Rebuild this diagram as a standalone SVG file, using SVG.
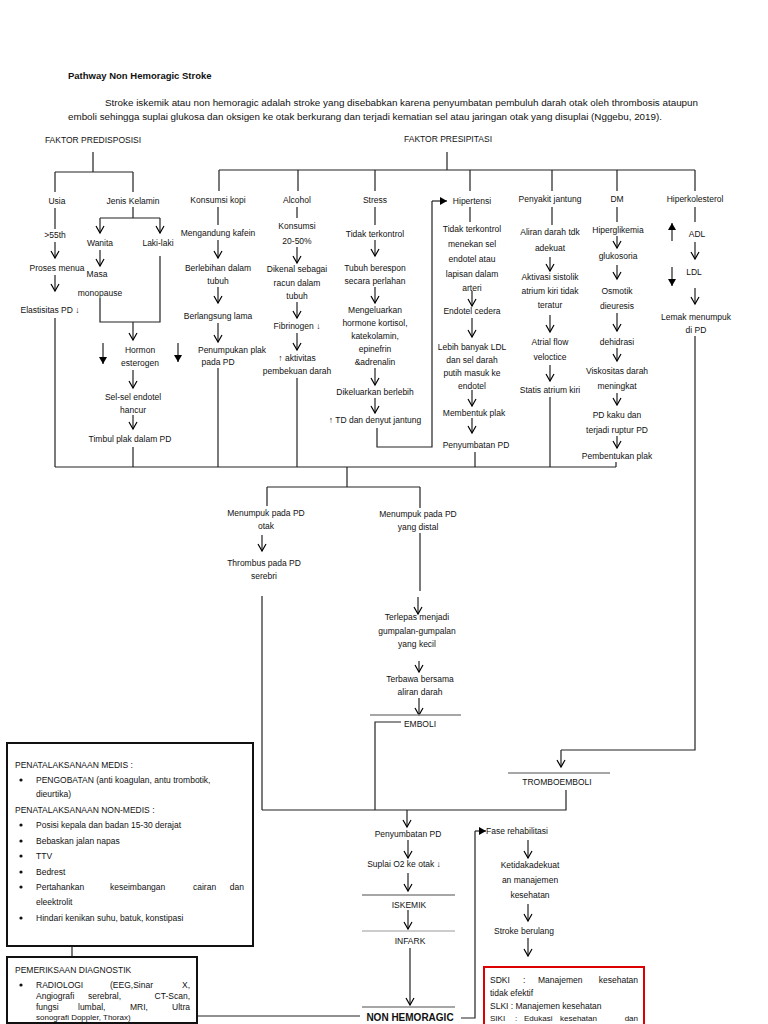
<svg xmlns="http://www.w3.org/2000/svg" width="768" height="1024" viewBox="0 0 768 1024">
<defs>
<marker id="a" markerWidth="10" markerHeight="10" refX="8" refY="5" orient="auto" markerUnits="userSpaceOnUse"><path d="M1,1 L8,5 L1,9" fill="none" stroke="#000" stroke-width="1.2"/></marker>
<marker id="f" markerWidth="8" markerHeight="8" refX="7" refY="4" orient="auto" markerUnits="userSpaceOnUse"><path d="M0,0 L7,4 L0,8 Z" fill="#000"/></marker>
</defs>
<style>
text{font-family:"Liberation Sans",Arial,sans-serif;font-size:8.5px;fill:#111}
.c{text-anchor:middle}
.e{text-anchor:end}
.b{font-weight:bold}
.l{stroke:#222;stroke-width:1.2;fill:none}
.ar{stroke:#222;stroke-width:1.2;fill:none;marker-end:url(#a)}
.fa{stroke:#222;stroke-width:1.2;fill:none;marker-end:url(#f)}
.g{stroke:#888;stroke-width:1.5}
</style>
<rect width="768" height="1024" fill="#fff"/>
<g id="header">
<text x="68" y="79" class="b" style="font-size:9.5px">Pathway Non Hemoragic Stroke</text>
<text x="105" y="106" textLength="593" lengthAdjust="spacingAndGlyphs">Stroke iskemik atau non hemoragic adalah stroke yang disebabkan karena penyumbatan pembuluh darah otak oleh thrombosis ataupun</text>
<text x="68" y="120" textLength="594" lengthAdjust="spacingAndGlyphs">emboli sehingga suplai glukosa dan oksigen ke otak berkurang dan terjadi kematian sel atau jaringan otak yang disuplai (Nggebu, 2019).</text>
<text x="93" y="143" class="c">FAKTOR PREDISPOSISI</text>
<text x="448" y="142" class="c">FAKTOR PRESIPITASI</text>
</g>
<g id="connectors">
<path class="l" d="M93,152V172M55,172H133M55,172V192M133,172V192"/>
<path class="l" d="M55,208V229"/><path class="ar" d="M55,242V258"/><path class="ar" d="M55,275V291"/>
<path class="l" d="M55,318V467"/>
<path class="l" d="M133,207V218H100M133,218H160"/><path class="ar" d="M100,218V233"/><path class="ar" d="M160,218V233"/>
<path class="ar" d="M100,250V266"/>
<path class="l" d="M100,298V322H160V256"/><path class="ar" d="M133,322V340"/>
<path class="fa" d="M103,343V364"/>
<path class="ar" d="M133,370V388"/><path class="ar" d="M133,415V429"/><path class="l" d="M133,447V467"/>
<path class="l" d="M447,152V170M219,170H695M219,170V191M298,170V191M375,170V191M470,170V191M552,170V191M617,170V191M695,170V191"/>
<path class="l" d="M218,207V225"/><path class="ar" d="M218,240V258"/><path class="ar" d="M218,287V303"/><path class="ar" d="M218,323V342"/><path class="fa" d="M178,343V362"/><path class="l" d="M218,368V467"/>
<path class="l" d="M297,207V218"/><path class="ar" d="M297,247V263"/><path class="ar" d="M297,302V318"/><path class="ar" d="M297,333V350"/><path class="l" d="M297,378V467"/>
<path class="l" d="M375,207V225"/><path class="ar" d="M375,240V256"/><path class="ar" d="M375,287V303"/><path class="ar" d="M375,368V385"/><path class="ar" d="M375,398V413"/>
<path class="l" d="M377,428V447H432V201"/><path class="fa" d="M432,201H447"/>
<path class="l" d="M470,207V222"/><path class="ar" d="M472,291V306"/><path class="ar" d="M472,318V337"/><path class="ar" d="M472,390V406"/><path class="ar" d="M472,418V433"/><path class="l" d="M475,452V467"/>
<path class="l" d="M552,207V225"/><path class="ar" d="M550,257V271"/><path class="ar" d="M550,315V332"/><path class="ar" d="M550,365V381"/><path class="l" d="M550,397V467"/>
<path class="l" d="M617,207V222"/><path class="ar" d="M617,236V248"/><path class="ar" d="M617,265V279"/><path class="ar" d="M617,313V331"/><path class="ar" d="M617,348V361"/><path class="ar" d="M617,393V405"/><path class="ar" d="M617,436V448"/><path class="l" d="M616,462V467"/>
<path class="l" d="M695,207V222"/><path class="fa" d="M672,241V223"/><path class="ar" d="M695,242V259"/><path class="fa" d="M672,267V286"/><path class="ar" d="M695,288V304"/>
<path class="l" d="M695,336V750H561"/><path class="ar" d="M561,750V767"/>
<path class="l" d="M55,467H616"/>
<path class="l" d="M347,467V487M267,487H420M267,487V506M420,487V508"/>
<path class="ar" d="M262,535V551"/><path class="l" d="M262,596V810"/>
<path class="l" d="M420,533V591"/><path class="ar" d="M418,597V614"/><path class="ar" d="M419,661V672"/><path class="ar" d="M419,698V715"/>
<line class="g" x1="370" y1="715" x2="461" y2="715"/>
<path class="l" d="M401,722H375V810"/>
<line class="g" x1="508" y1="773" x2="610" y2="773"/>
<path class="l" d="M566,790V810H262"/>
<path class="ar" d="M407,810V827"/><path class="ar" d="M408,840V858"/><path class="ar" d="M408,873V891"/>
<line class="g" x1="362" y1="895" x2="455" y2="895"/>
<path class="ar" d="M408,910V929"/>
<line class="g" x1="362" y1="931" x2="455" y2="931" style="stroke:#bbb"/>
<path class="ar" d="M410,948V1005"/>
<line class="g" x1="362" y1="1007" x2="455" y2="1007"/>
<path class="l" d="M198,1016H360"/>
<path class="l" d="M461,1018H475V831"/><path class="fa" d="M475,831H486"/>
<path class="ar" d="M528,840V858"/><path class="ar" d="M528,904V921"/><path class="ar" d="M528,938V956"/>
<path class="l" d="M72,946V957"/>
</g>
<g id="predisposisi">
<text x="57" y="204" class="c">Usia</text>
<text x="55" y="238" class="c">&gt;55th</text>
<text x="57" y="271" class="c">Proses menua</text>
<text x="50" y="313" class="c">Elastisitas PD ↓</text>
<text x="133" y="204" class="c">Jenis Kelamin</text>
<text x="100" y="246" class="c">Wanita</text>
<text x="158" y="246" class="c">Laki-laki</text>
<text x="97" y="277" class="c">Masa</text>
<text x="100" y="296" class="c">monopause</text>
<text x="140" y="353" class="c">Hormon</text>
<text x="140" y="366" class="c">esterogen</text>
<text x="133" y="400" class="c">Sel-sel endotel</text>
<text x="133" y="413" class="c">hancur</text>
<text x="130" y="442" class="c">Timbul plak dalam PD</text>
</g>
<g id="kopi">
<text x="218" y="203" class="c">Konsumsi kopi</text>
<text x="218" y="236" class="c">Mengandung kafein</text>
<text x="218" y="271" class="c">Berlebihan dalam</text><text x="218" y="284" class="c">tubuh</text>
<text x="218" y="319" class="c">Berlangsung lama</text>
<text x="232" y="353" class="c">Penumpukan plak</text><text x="218" y="365" class="c">pada PD</text>
</g>
<g id="alcohol">
<text x="297" y="203" class="c">Alcohol</text>
<text x="297" y="229" class="c">Konsumsi</text><text x="297" y="244" class="c">20-50%</text>
<text x="297" y="272" class="c">Dikenal sebagai</text><text x="297" y="286" class="c">racun dalam</text><text x="297" y="299" class="c">tubuh</text>
<text x="297" y="329" class="c">Fibrinogen ↓</text>
<text x="297" y="361" class="c">↑ aktivitas</text><text x="297" y="374" class="c">pembekuan darah</text>
</g>
<g id="stress">
<text x="375" y="203" class="c">Stress</text>
<text x="375" y="237" class="c">Tidak terkontrol</text>
<text x="375" y="271" class="c">Tubuh berespon</text><text x="375" y="284" class="c">secara perlahan</text>
<text x="375" y="313" class="c">Mengeluarkan</text><text x="375" y="326" class="c">hormone kortisol,</text><text x="375" y="339" class="c">katekolamin,</text><text x="375" y="352" class="c">epinefrin</text><text x="375" y="365" class="c">&amp;adrenalin</text>
<text x="375" y="395" class="c">Dikeluarkan berlebih</text>
<text x="375" y="423" class="c">↑ TD dan denyut jantung</text>
</g>
<g id="hipertensi">
<text x="472" y="204" class="c">Hipertensi</text>
<text x="472" y="232" class="c">Tidak terkontrol</text><text x="472" y="247" class="c">menekan sel</text><text x="472" y="262" class="c">endotel atau</text><text x="472" y="277" class="c">lapisan dalam</text><text x="472" y="291" class="c">arteri</text>
<text x="472" y="314" class="c">Endotel cedera</text>
<text x="472" y="350" class="c">Lebih banyak LDL</text><text x="472" y="363" class="c">dan sel darah</text><text x="472" y="376" class="c">putih masuk ke</text><text x="472" y="389" class="c">endotel</text>
<text x="474" y="416" class="c">Membentuk plak</text>
<text x="476" y="448" class="c">Penyumbatan PD</text>
</g>
<g id="jantung">
<text x="550" y="202" class="c">Penyakit jantung</text>
<text x="550" y="235" class="c">Aliran darah tdk</text><text x="550" y="251" class="c">adekuat</text>
<text x="550" y="280" class="c">Aktivasi sistolik</text><text x="550" y="294" class="c">atrium kiri tidak</text><text x="550" y="308" class="c">teratur</text>
<text x="550" y="345" class="c">Atrial flow</text><text x="550" y="360" class="c">veloctice</text>
<text x="550" y="393" class="c">Statis atrium kiri</text>
</g>
<g id="dm">
<text x="617" y="202" class="c">DM</text>
<text x="618" y="233" class="c">Hiperglikemia</text>
<text x="618" y="259" class="c">glukosoria</text>
<text x="617" y="294" class="c">Osmotik</text><text x="617" y="309" class="c">dieuresis</text>
<text x="617" y="345" class="c">dehidrasi</text>
<text x="617" y="374" class="c">Viskositas darah</text><text x="617" y="389" class="c">meningkat</text>
<text x="617" y="418" class="c">PD kaku dan</text><text x="617" y="433" class="c">terjadi ruptur PD</text>
<text x="617" y="459" class="c">Pembentukan plak</text>
</g>
<g id="kolesterol">
<text x="695" y="202" class="c">Hiperkolesterol</text>
<text x="697" y="237" class="c">ADL</text>
<text x="694" y="275" class="c">LDL</text>
<text x="696" y="320" class="c">Lemak menumpuk</text><text x="696" y="333" class="c">di PD</text>
</g>
<g id="mid">
<text x="266" y="516" class="c">Menumpuk pada PD</text><text x="266" y="529" class="c">otak</text>
<text x="264" y="566" class="c">Thrombus pada PD</text><text x="264" y="579" class="c">serebri</text>
<text x="418" y="517" class="c">Menumpuk pada PD</text><text x="418" y="530" class="c">yang distal</text>
<text x="417" y="620" class="c">Terlepas menjadi</text><text x="417" y="634" class="c">gumpalan-gumpalan</text><text x="417" y="647" class="c">yang kecil</text>
<text x="420" y="682" class="c">Terbawa bersama</text><text x="420" y="695" class="c">aliran darah</text>
<text x="420" y="727" class="c">EMBOLI</text>
<text x="557" y="785" class="c">TROMBOEMBOLI</text>
</g>
<g id="bottom">
<text x="408" y="837" class="c">Penyumbatan PD</text>
<text x="404" y="867" class="c">Suplai O2 ke otak ↓</text>
<text x="409" y="908" class="c">ISKEMIK</text>
<text x="410" y="944" class="c">INFARK</text>
<text x="410" y="1021" class="c b" style="font-size:10px">NON HEMORAGIC</text>
<text x="486" y="834">Fase rehabilitasi</text>
<text x="530" y="868" class="c">Ketidakadekuat</text><text x="530" y="883" class="c">an manajemen</text><text x="530" y="898" class="c">kesehatan</text>
<text x="524" y="934" class="c">Stroke berulang</text>
</g>
<g id="sdki">
<rect x="484" y="967" width="160" height="62" fill="none" stroke="#d00" stroke-width="2"/>
<text x="490" y="983">SDKI</text><text x="523" y="983">:</text><text x="538" y="983">Manajemen</text><text x="638" y="983" class="e">kesehatan</text>
<text x="490" y="996">tidak efektif</text>
<text x="490" y="1009">SLKI : Manajemen kesehatan</text>
<text x="490" y="1021" style="font-size:8px">SIKI</text><text x="515" y="1021" style="font-size:8px">:</text><text x="524" y="1021" style="font-size:8px">Edukasi</text><text x="560" y="1021" style="font-size:8px">kesehatan</text><text x="638" y="1021" class="e" style="font-size:8px">dan</text>
</g>
<g id="medis">
<rect x="7" y="743" width="246" height="203" fill="none" stroke="#111" stroke-width="2"/>
<text x="15" y="768">PENATALAKSANAAN MEDIS :</text>
<circle cx="21" cy="780" r="1.6" fill="#111"/><text x="36" y="783">PENGOBATAN (anti koagulan, antu trombotik,</text>
<text x="36" y="797">dieurtika)</text>
<text x="15" y="813">PENATALAKSANAAN NON-MEDIS :</text>
<circle cx="21" cy="825" r="1.6" fill="#111"/><text x="36" y="828">Posisi kepala dan badan 15-30 derajat</text>
<circle cx="21" cy="841" r="1.6" fill="#111"/><text x="36" y="844">Bebaskan jalan napas</text>
<circle cx="21" cy="856" r="1.6" fill="#111"/><text x="36" y="859">TTV</text>
<circle cx="21" cy="872" r="1.6" fill="#111"/><text x="36" y="875">Bedrest</text>
<circle cx="21" cy="887" r="1.6" fill="#111"/><text x="36" y="890">Pertahankan</text><text x="110" y="890">keseimbangan</text><text x="193" y="890">cairan</text><text x="244" y="890" class="e">dan</text>
<text x="36" y="905">eleektrolit</text>
<circle cx="21" cy="918" r="1.6" fill="#111"/><text x="36" y="921">Hindari kenikan suhu, batuk, konstipasi</text>
</g>
<g id="diagnostik">
<rect x="7" y="957" width="190" height="66" fill="none" stroke="#111" stroke-width="2"/>
<text x="15" y="973">PEMERIKSAAN DIAGNOSTIK</text>
<circle cx="21" cy="985" r="1.6" fill="#111"/><text x="36" y="988">RADIOLOGI</text><text x="110" y="988">(EEG,Sinar</text><text x="190" y="988" class="e">X,</text>
<text x="36" y="999">Angiografi</text><text x="88" y="999">serebral,</text><text x="190" y="999" class="e">CT-Scan,</text>
<text x="36" y="1010">fungsi</text><text x="78" y="1010">lumbal,</text><text x="130" y="1010">MRI,</text><text x="190" y="1010" class="e">Ultra</text>
<text x="36" y="1020" style="font-size:8px">sonografi Doppler, Thorax)</text>
</g>
</svg>
